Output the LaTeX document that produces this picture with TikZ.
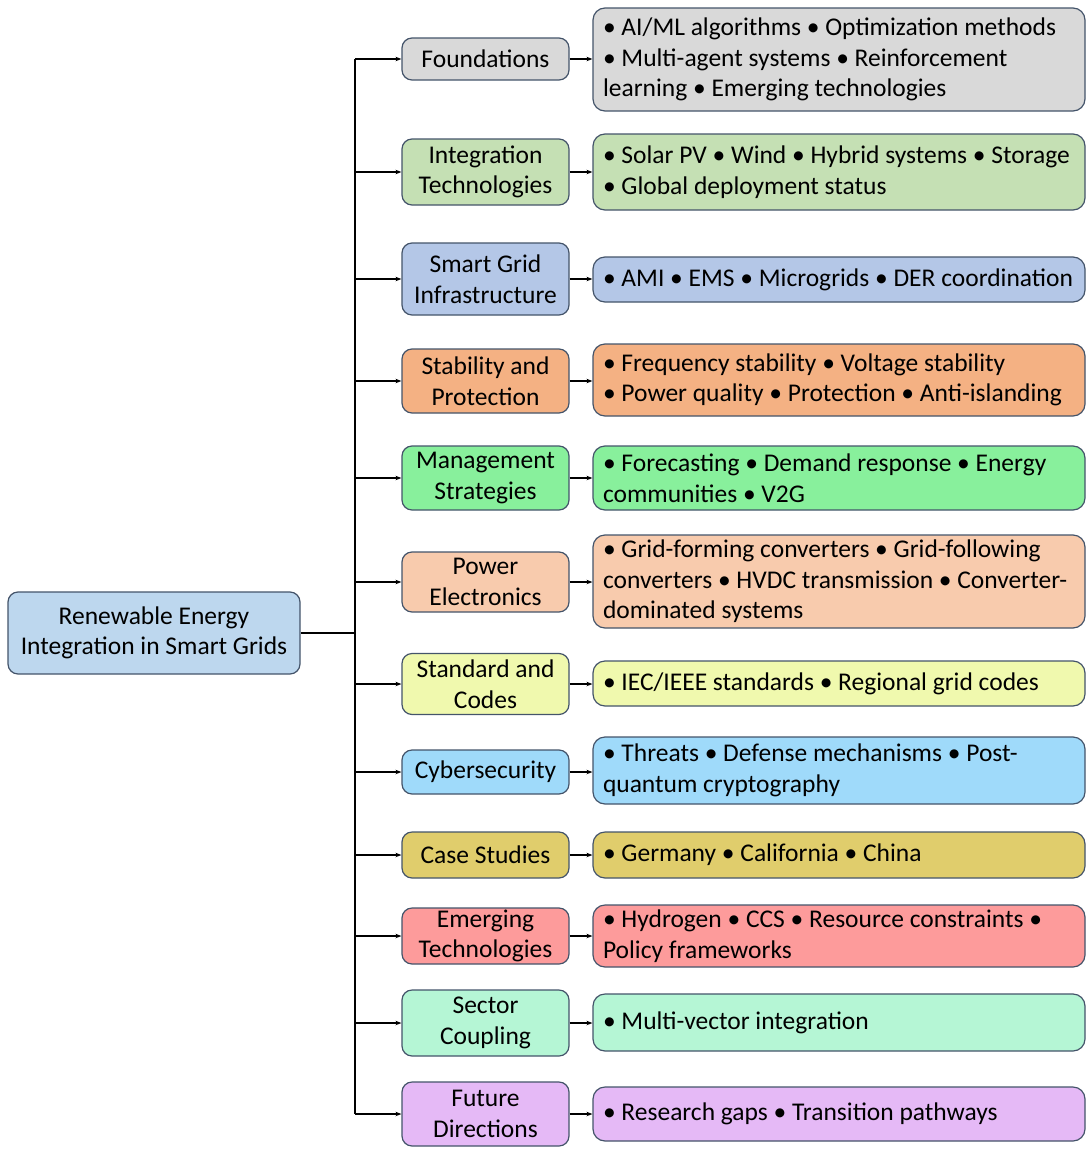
\documentclass[tikz,border=0pt]{standalone}
\usepackage{fontspec}
\setmainfont{Carlito}
\usetikzlibrary{arrows.meta}
\definecolor{bordc}{HTML}{44546A}
\definecolor{rootc}{HTML}{BDD7EE}
\definecolor{ca}{HTML}{D9D9D9}
\definecolor{cb}{HTML}{C5E0B4}
\definecolor{cc}{HTML}{B4C7E7}
\definecolor{cd}{HTML}{F4B183}
\definecolor{ce}{HTML}{88F09C}
\definecolor{cf}{HTML}{F8CBAD}
\definecolor{cg}{HTML}{F0F9AE}
\definecolor{ch}{HTML}{9FDAFA}
\definecolor{ci}{HTML}{E0CD6C}
\definecolor{cj}{HTML}{FD9B9B}
\definecolor{ck}{HTML}{B5F6D5}
\definecolor{cl}{HTML}{E5B9F6}
\begin{document}
\begin{tikzpicture}[x=1pt,y=-1pt,
  box/.style={draw=bordc, line width=1.2pt, rounded corners=10pt, inner sep=0pt,
    font=\fontsize{25.5}{30.5}\selectfont, text=black},
  rootbox/.style={box, fill=rootc, minimum width=292pt, minimum height=82pt, align=center},
  midbox/.style={box, minimum width=167pt, align=center},
  rtbox/.style={box, rounded corners=12pt, minimum width=492pt, text width=472pt, align=flush left},
  conn/.style={line width=1.1pt, black},
  arr/.style={conn, -{Stealth[length=6pt,width=4.5pt]}}
]
\useasboundingbox (0,0) rectangle (1092,1154);

\node[rootbox] (root) at (154,633) {Renewable Energy\\Integration in Smart Grids};

\node[midbox, fill=ca, minimum height=42pt] (m1) at (485.5,59) {Foundations};
\node[midbox, fill=cb, minimum height=66pt] (m2) at (485.5,172) {Integration\\Technologies};
\node[midbox, fill=cc, minimum height=72pt] (m3) at (485.5,279) {Smart Grid\\Infrastructure};
\node[midbox, fill=cd, minimum height=64pt] (m4) at (485.5,381) {Stability and\\Protection};
\node[midbox, fill=ce, minimum height=64pt] (m5) at (485.5,478) {Management\\Strategies};
\node[midbox, fill=cf, minimum height=60pt] (m6) at (485.5,582) {Power\\Electronics};
\node[midbox, fill=cg, minimum height=61pt] (m7) at (485.5,684) {Standard and\\Codes};
\node[midbox, fill=ch, minimum height=44pt] (m8) at (485.5,772) {Cybersecurity};
\node[midbox, fill=ci, minimum height=46pt] (m9) at (485.5,855) {Case Studies};
\node[midbox, fill=cj, minimum height=56pt] (m10) at (485.5,936) {Emerging\\Technologies};
\node[midbox, fill=ck, minimum height=66pt] (m11) at (485.5,1023) {Sector\\Coupling};
\node[midbox, fill=cl, minimum height=64pt] (m12) at (485.5,1114) {Future\\Directions};

\node[rtbox, fill=ca, minimum height=103pt] (r1) at (839,59.5) {• AI/ML algorithms • Optimization methods\\• Multi-agent systems • Reinforcement\\learning • Emerging technologies};
\node[rtbox, fill=cb, minimum height=76pt] (r2) at (839,172) {• Solar PV • Wind • Hybrid systems • Storage\\• Global deployment status};
\node[rtbox, fill=cc, minimum height=45pt] (r3) at (839,279.5) {• AMI • EMS • Microgrids • DER coordination};
\node[rtbox, fill=cd, minimum height=72pt] (r4) at (839,380) {• Frequency stability • Voltage stability\\• Power quality • Protection • Anti-islanding};
\node[rtbox, fill=ce, minimum height=64pt] (r5) at (839,478) {• Forecasting • Demand response • Energy\\communities • V2G};
\node[rtbox, fill=cf, minimum height=93pt] (r6) at (839,581.5) {• Grid-forming converters • Grid-following\\converters • HVDC transmission • Converter-\\dominated systems};
\node[rtbox, fill=cg, minimum height=45pt] (r7) at (839,683.5) {• IEC/IEEE standards • Regional grid codes};
\node[rtbox, fill=ch, minimum height=67pt] (r8) at (839,770.5) {• Threats • Defense mechanisms • Post-\\quantum cryptography};
\node[rtbox, fill=ci, minimum height=46pt] (r9) at (839,855) {• Germany • California • China};
\node[rtbox, fill=cj, minimum height=62pt] (r10) at (839,936) {• Hydrogen • CCS • Resource constraints •\\Policy frameworks};
\node[rtbox, fill=ck, minimum height=57pt] (r11) at (839,1022.5) {• Multi-vector integration};
\node[rtbox, fill=cl, minimum height=54pt] (r12) at (839,1114) {• Research gaps • Transition pathways};

\coordinate (t) at (355,633);
\coordinate (ttop) at (355,59);
\coordinate (tbot) at (355,1114);
\draw[conn] (root.east) -- (t);
\draw[conn] (ttop |- m1.west) -- (tbot |- m12.west);
\foreach \i in {1,...,12}{
  \draw[arr] (t |- m\i.west) -- (m\i.west);
  \draw[arr] (m\i.east) -- (m\i.east -| r\i.west);
}
\end{tikzpicture}
\end{document}
